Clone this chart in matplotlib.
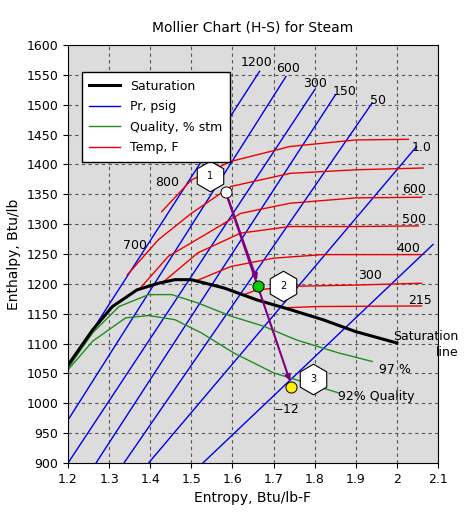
import matplotlib
matplotlib.use("Agg")
import matplotlib.pyplot as plt
from matplotlib.lines import Line2D

# Constant-pressure lines (psig): (s, h) endpoints
pr_labels = ["1200", "600", "300", "150", "50", "1.0", "-12"]
pr_s = [[1.20, 1.666], [1.20, 1.730], [1.20, 1.80], [1.268, 1.850], [1.336, 1.94], [1.396, 2.048], [1.528, 2.088]]
pr_h = [[1059, 1556], [972, 1547], [900, 1525], [900, 1516], [900, 1503], [900, 1430], [900, 1266]]

temp_s = [
    [1.428, 1.5, 1.596, 1.74, 1.9, 2.028],
    [1.344, 1.42, 1.5, 1.596, 1.74, 1.9, 2.064],
    [1.372, 1.444, 1.54, 1.62, 1.74, 1.9, 2.06],
    [1.428, 1.516, 1.62, 1.74, 1.9, 2.052],
    [1.508, 1.596, 1.70, 1.82, 2.06],
    [1.628, 1.66, 1.756, 1.9, 2.06],
    [1.732, 1.804, 2.06],
]
temp_h = [
    [1321, 1374, 1405, 1430, 1441, 1442],
    [1215, 1274, 1318, 1363, 1385, 1391, 1394],
    [1190, 1246, 1285, 1318, 1335, 1344, 1345],
    [1201, 1252, 1285, 1296, 1296, 1297],
    [1204, 1229, 1243, 1249, 1249],
    [1182, 1190, 1196, 1198, 1201],
    [1160, 1162, 1163],
]

sat_s = [1.2, 1.26, 1.308, 1.368, 1.42, 1.46, 1.5, 1.58, 1.66, 1.74, 1.82, 1.90, 2.0]
sat_h = [1064, 1123, 1162, 1190, 1201, 1207, 1207, 1193, 1173, 1157, 1140, 1120, 1101]

q97_s = [1.2, 1.26, 1.324, 1.396, 1.452, 1.516, 1.596, 1.676, 1.756, 1.86, 1.94]
q97_h = [1059, 1118, 1162, 1182, 1182, 1168, 1146, 1129, 1106, 1084, 1070]
q92_s = [1.2, 1.26, 1.34, 1.396, 1.46, 1.524, 1.604, 1.70, 1.78, 1.86]
q92_h = [1056, 1104, 1143, 1147, 1140, 1118, 1084, 1051, 1034, 1017]

pts_s = [1.584, 1.662, 1.742]
pts_h = [1353, 1197, 1028]
pts_c = ["white", "#00cc00", "#ffee00"]
hex_s = [1.546, 1.724, 1.796]
hex_h = [1381, 1196, 1040]

fig = plt.figure(figsize=(4.74, 5.23), dpi=100)
ax = fig.add_axes([0.1435, 0.1147, 0.7805, 0.7993])
ax.set_facecolor("#dcdcdc")
ax.set_xlim(1.2, 2.1)
ax.set_ylim(900, 1600)
ax.set_xticks([1.2 + 0.1 * i for i in range(10)])
ax.set_xticklabels(["1.2", "1.3", "1.4", "1.5", "1.6", "1.7", "1.8", "1.9", "2", "2.1"])
ax.set_yticks(range(900, 1601, 50))
ax.grid(True, color="#555555", linestyle=(0, (3, 3)), linewidth=0.8)
ax.tick_params(labelsize=9)
ax.set_xlabel("Entropy, Btu/lb-F", fontsize=10)
ax.set_ylabel("Enthalpy, Btu/lb", fontsize=10)
ax.set_title("Mollier Chart (H-S) for Steam", fontsize=10, pad=10)

for s, h in zip(pr_s, pr_h):
    ax.plot(s, h, color="#0000ee", lw=1)
for s, h in zip(temp_s, temp_h):
    ax.plot(s, h, color="#ee0000", lw=1)
ax.plot(q97_s, q97_h, color="#228b22", lw=1)
ax.plot(q92_s, q92_h, color="#228b22", lw=1)
ax.plot(sat_s, sat_h, color="black", lw=2.2)

for i in (1, 2):
    ax.annotate("", xy=(pts_s[i], pts_h[i] + 5), xytext=(pts_s[0], pts_h[0]),
                arrowprops=dict(arrowstyle="-|>", color="#800080", lw=1.5, mutation_scale=8))
for s, h, c in zip(pts_s, pts_h, pts_c):
    ax.plot(s, h, "o", ms=8, mfc=c, mec="black", mew=0.7, zorder=5)
for i, (s, h) in enumerate(zip(hex_s, hex_h)):
    ax.plot(s, h, marker="h", ms=22, mfc="white", mec="black", mew=0.8, zorder=5)
    ax.text(s, h, str(i + 1), ha="center", va="center", fontsize=7, zorder=6)

lab = [("1200", 1.658, 1570), ("600", 1.736, 1561), ("300", 1.802, 1536), ("150", 1.874, 1522),
       ("50", 1.954, 1507), ("1.0", 2.06, 1429), ("800", 1.44, 1370), ("700", 1.364, 1264),
       ("600", 2.042, 1358), ("500", 2.042, 1307), ("400", 2.028, 1260), ("300", 1.934, 1214),
       ("215", 2.056, 1172), ("97 %", 1.996, 1057), ("92% Quality", 1.95, 1012), ("--12", 1.732, 990)]
for t, s, h in lab:
    ax.text(s, h, t, ha="center", va="center", fontsize=9)
ax.text(2.07, 1098, "Saturation\nline", ha="center", va="center", fontsize=9, linespacing=1.3,
        multialignment="right")

handles = [Line2D([], [], color="black", lw=2.2), Line2D([], [], color="#0000ee", lw=1),
           Line2D([], [], color="#228b22", lw=1), Line2D([], [], color="#ee0000", lw=1)]
ax.legend(handles, ["Saturation", "Pr, psig", "Quality, % stm", "Temp, F"], loc="upper left",
          bbox_to_anchor=(0.02, 0.95), fontsize=9, fancybox=False, framealpha=1,
          edgecolor="black", borderpad=0.6, labelspacing=0.6, handlelength=2.5)
fig.savefig("out.png", dpi=100)
